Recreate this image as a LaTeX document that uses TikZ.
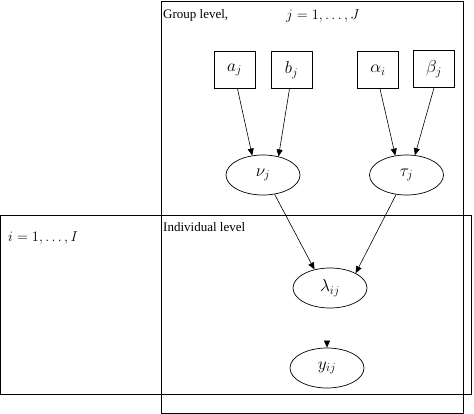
\documentclass[tikz,border=0pt]{standalone}
\usepackage{fontspec}
\setmainfont{Liberation Serif}
\usetikzlibrary{arrows.meta,shapes.geometric}

\tikzset{
	varbox/.style={draw,line width=0.7pt,minimum width=41pt,minimum height=37pt,inner sep=1pt,font=\fontsize{17}{19}\selectfont},
	varoval/.style={draw,ellipse,line width=0.7pt,minimum width=74pt,minimum height=40pt,inner sep=1pt,font=\fontsize{17}{19}\selectfont},
	lvl/.style={anchor=west,inner sep=0pt,font=\fontsize{13}{15}\selectfont},
	arr/.style={line width=0.6pt,-{Triangle[length=7pt,width=6pt]}}
}

\begin{document}
\begin{tikzpicture}[x=1pt,y=-1pt]
		\useasboundingbox[fill=white] (0,0) rectangle (474,414);
		% plates
		\draw[line width=0.9pt] (161,1) rectangle (463,413);
		\draw[line width=0.9pt] (0.5,215) rectangle (471,394);
		\node[lvl] (grp) at (163,15) {Group level,};
		\node[lvl,font=\fontsize{14}{16}\selectfont] (jrange) at (286,16) {$j = 1,\ldots, J$};
		\node[lvl] (ind) at (163,227) {Individual level};
		\node[lvl,font=\fontsize{14}{16}\selectfont] (irange) at (8,238) {$i = 1,\ldots, I$};
		% variables
		\node[varbox] (a) at (234.5,70) {$a_j$};
		\node[varbox] (b) at (291.5,70) {$b_j$};
		\node[varbox] (alpha) at (378,70) {$\alpha_i$};
		\node[varbox] (beta) at (434,69) {$\beta_j$};
		\node[varoval] (nu) at (263,175) {$\nu_j$};
		\node[varoval] (tau) at (406.5,175) {$\tau_j$};
		\node[varoval] (lambda) at (330,288) {$\lambda_{ij}$};
		\node[varoval] (y) at (327,368) {$y_{ij}$};
		\coordinate (ytip) at (327,341);
		% edges
		\draw[arr] ([xshift=3pt]a.south) -- (nu.119);
		\draw[arr] ([xshift=-2pt]b.south) -- (nu.50);
		\draw[arr] ([xshift=2pt]alpha.south) -- (tau.120);
		\draw[arr] (beta.south) -- (tau.67);
		\draw[arr] (nu.-59) -- (lambda.130);
		\draw[arr] (tau.-118) -- (lambda.30);
		\draw[arr] (ytip) -- (y.north);
	\end{tikzpicture}
\end{document}
